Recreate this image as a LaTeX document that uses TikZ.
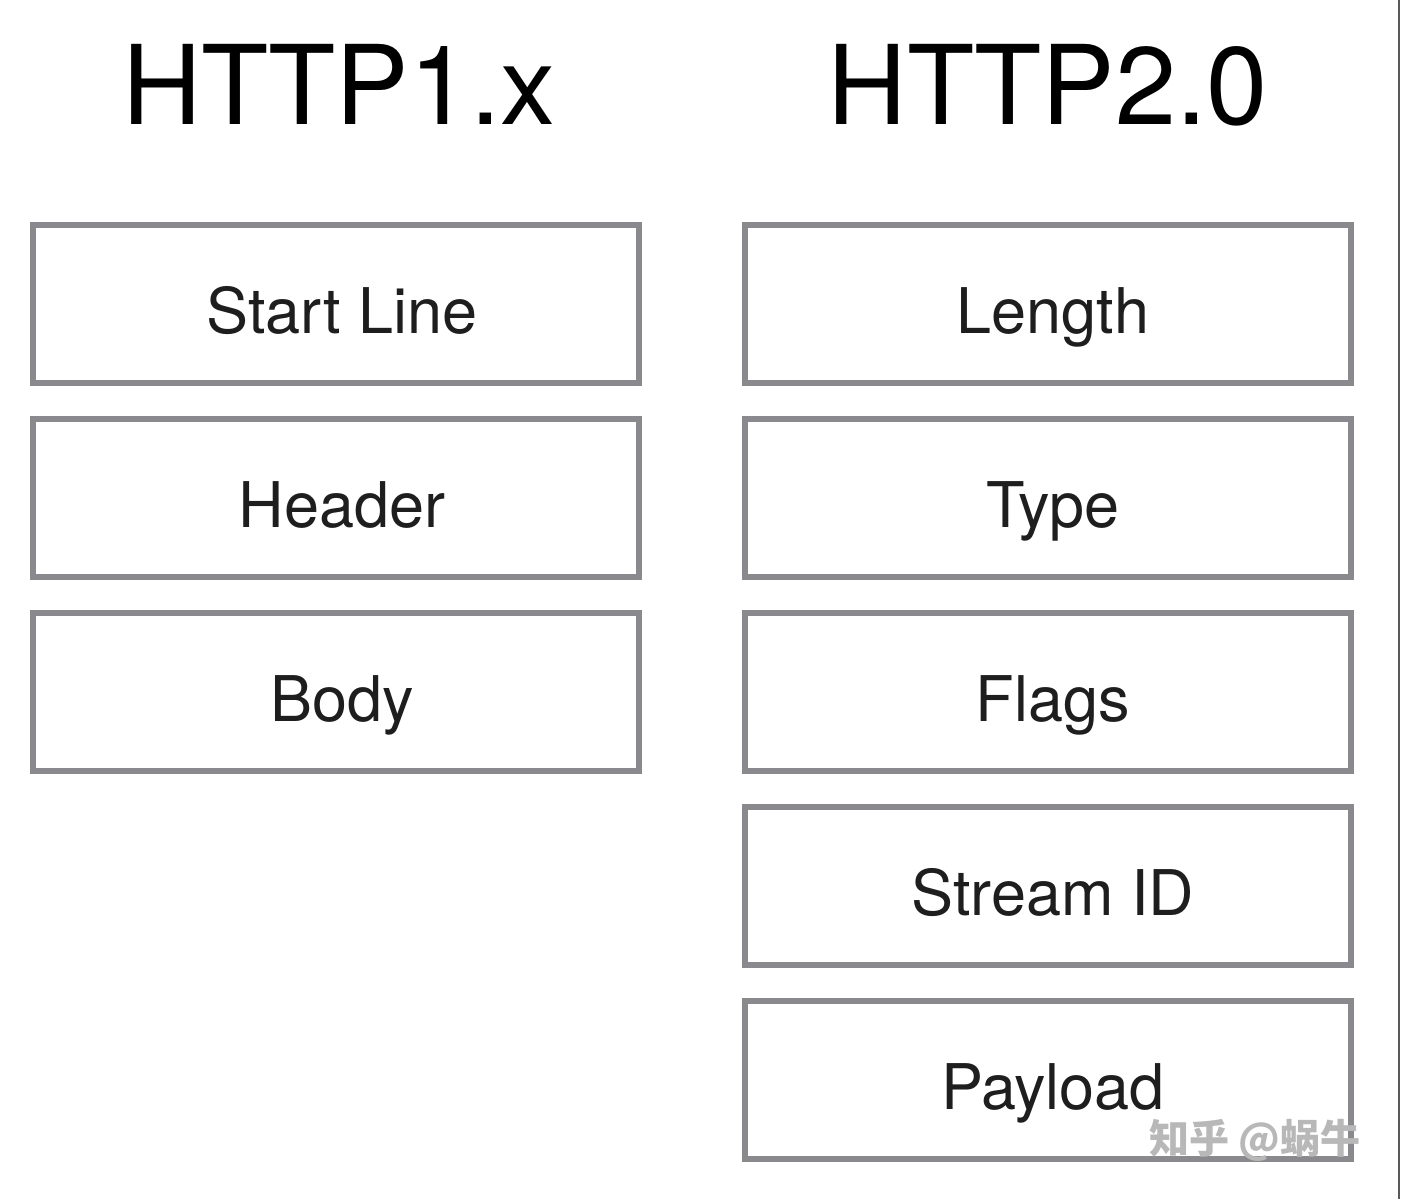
\documentclass[tikz,border=0pt]{standalone}
\usepackage{fontspec}
\setmainfont{TeX Gyre Heros}
\newfontfamily\cjkwm{Noto Sans CJK SC}
\definecolor{boxgray}{HTML}{8A8A8E}
\definecolor{txt}{HTML}{1E1E1E}
\begin{document}
\begin{tikzpicture}[x=1pt,y=-1pt,
  fieldbox/.style={draw=boxgray,line width=6pt,fill=white},
  fieldlabel/.style={anchor=base,text=txt,font=\fontsize{63}{70}\selectfont,inner sep=0pt},
  titlelabel/.style={anchor=base,text=black,font=\fontsize{110}{120}\selectfont,inner sep=0pt}]
\useasboundingbox (0,0) rectangle (1402,1199);
\fill[white] (0,0) rectangle (1402,1199);
\draw[line width=1.5pt,color=black!65] (1399,0) -- (1399,1199);
% titles
\node[titlelabel] (t1) at (339,124) {HTTP1.x};
\node[titlelabel] (t2) at (1048,124) {HTTP2.0};
% left column
\foreach \nm/\lab/\top in {a1/Start Line/225, a2/Header/419, a3/Body/613}{
  \draw[fieldbox] (33,\top) rectangle (639,\top+158);
  \node[fieldlabel] (\nm) at (342,\top+108) {\lab};
}
% right column
\foreach \nm/\lab/\top in {b1/Length/225, b2/Type/419, b3/Flags/613, b4/Stream ID/807, b5/Payload/1001}{
  \draw[fieldbox] (745,\top) rectangle (1351,\top+158);
  \node[fieldlabel] (\nm) at (1053,\top+108) {\lab};
}
% watermark
\node[text=black!28,font=\cjkwm\fontsize{40}{44}\selectfont\bfseries,inner sep=0pt] (wm) at (1255,1140) {知乎 @蜗牛};
\end{tikzpicture}
\end{document}
